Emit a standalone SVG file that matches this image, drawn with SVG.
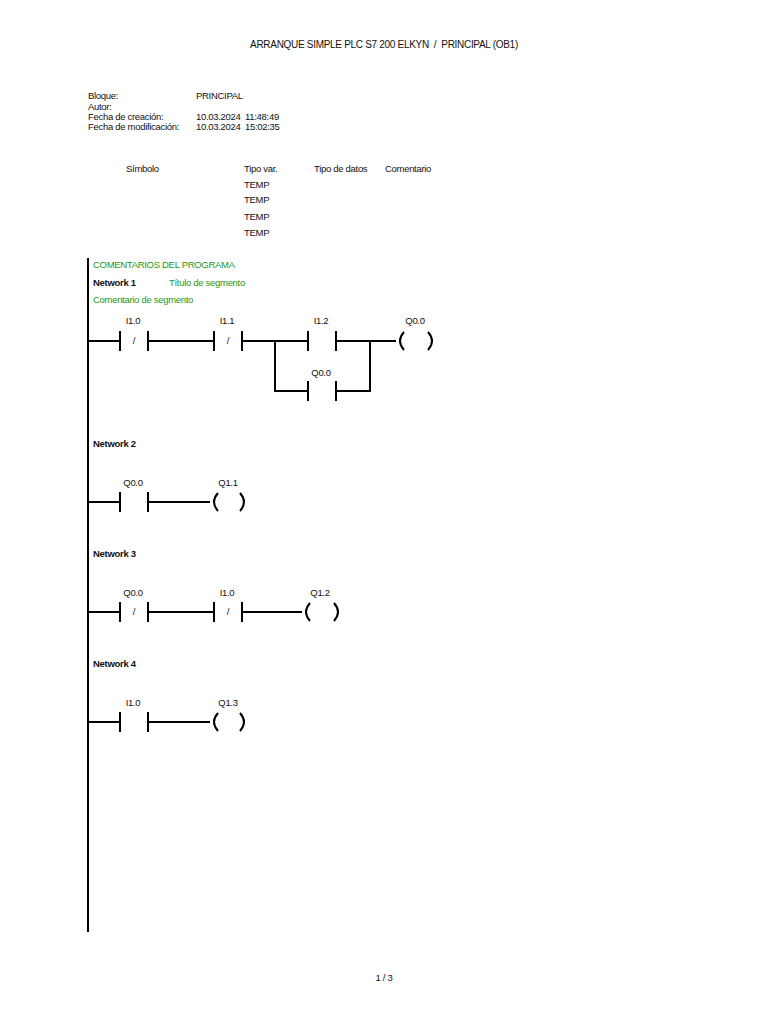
<svg xmlns="http://www.w3.org/2000/svg" width="768" height="1024" viewBox="0 0 768 1024">
<style>
text{font-family:"Liberation Sans",Arial,sans-serif;font-size:9.5px;fill:#111;letter-spacing:-0.3px}
.g{fill:#1a9a1a}
.b{font-weight:bold}
.m{text-anchor:middle}
.w{stroke:#000;stroke-width:2;fill:none}
.c{stroke:#000;stroke-width:2;fill:none}
</style>
<rect width="768" height="1024" fill="#fff"/>
<text x="384" y="48" class="m" style="font-size:10px" xml:space="preserve">ARRANQUE SIMPLE PLC S7 200 ELKYN  /  PRINCIPAL (OB1)</text>
<text x="88" y="99">Bloque:</text><text x="196" y="99">PRINCIPAL</text>
<text x="88" y="110">Autor:</text>
<text x="88" y="120">Fecha de creación:</text><text x="196" y="120">10.03.2024</text><text x="245" y="120">11:48:49</text>
<text x="88" y="130">Fecha de modificación:</text><text x="196" y="130">10.03.2024</text><text x="245" y="130">15:02:35</text>
<text x="126" y="172">Símbolo</text><text x="244" y="172">Tipo var.</text><text x="314" y="172">Tipo de datos</text><text x="385" y="172">Comentario</text>
<text x="244" y="188">TEMP</text><text x="244" y="203">TEMP</text><text x="244" y="220">TEMP</text><text x="244" y="236">TEMP</text>
<text x="93" y="268" class="g">COMENTARIOS DEL PROGRAMA</text>
<text x="93" y="286" class="b">Network 1</text><text x="169" y="286" class="g">Título de segmento</text>
<text x="93" y="303" class="g">Comentario de segmento</text>
<text x="93" y="447" class="b">Network 2</text>
<text x="93" y="557" class="b">Network 3</text>
<text x="93" y="667" class="b">Network 4</text>
<g id="rail"><line x1="88" y1="258" x2="88" y2="932" class="w"/></g>
<g id="connectors" class="w">
<path d="M88 341H120M148 341H214M242 341H308M336 341H396M275 341V391H308M336 391H370V341"/>
<path d="M88 502H120M148 502H210"/>
<path d="M88 612H120M148 612H214M242 612H302"/>
<path d="M88 722H120M148 722H210"/>
</g>
<g id="n1_I1.0"><path class="c" d="M120 331V351M148 331V351"/><text x="134" y="344" class="m">/</text><text x="133" y="324" class="m">I1.0</text></g>
<g id="n1_I1.1"><path class="c" d="M214 331V351M242 331V351"/><text x="228" y="344" class="m">/</text><text x="227" y="324" class="m">I1.1</text></g>
<g id="n1_I1.2"><path class="c" d="M308 331V351M336 331V351"/><text x="321" y="324" class="m">I1.2</text></g>
<g id="n1_Q0.0c"><path class="c" d="M308 381V401M336 381V401"/><text x="321" y="376" class="m">Q0.0</text></g>
<g id="n1_Q0.0"><path class="c" d="M404 332Q396 341 404 350M428 332Q436 341 428 350"/><text x="415" y="324" class="m">Q0.0</text></g>
<g id="n2_Q0.0"><path class="c" d="M120 492V512M148 492V512"/><text x="133" y="486" class="m">Q0.0</text></g>
<g id="n2_Q1.1"><path class="c" d="M218 493Q210 502 218 511M240 493Q248 502 240 511"/><text x="228" y="486" class="m">Q1.1</text></g>
<g id="n3_Q0.0"><path class="c" d="M120 602V622M148 602V622"/><text x="134" y="615" class="m">/</text><text x="133" y="596" class="m">Q0.0</text></g>
<g id="n3_I1.0"><path class="c" d="M214 602V622M242 602V622"/><text x="228" y="615" class="m">/</text><text x="227" y="596" class="m">I1.0</text></g>
<g id="n3_Q1.2"><path class="c" d="M310 603Q302 612 310 621M334 603Q342 612 334 621"/><text x="320" y="596" class="m">Q1.2</text></g>
<g id="n4_I1.0"><path class="c" d="M120 712V732M148 712V732"/><text x="133" y="706" class="m">I1.0</text></g>
<g id="n4_Q1.3"><path class="c" d="M218 713Q210 722 218 731M240 713Q248 722 240 731"/><text x="228" y="706" class="m">Q1.3</text></g>
<text x="384" y="981" class="m">1 / 3</text>
</svg>
